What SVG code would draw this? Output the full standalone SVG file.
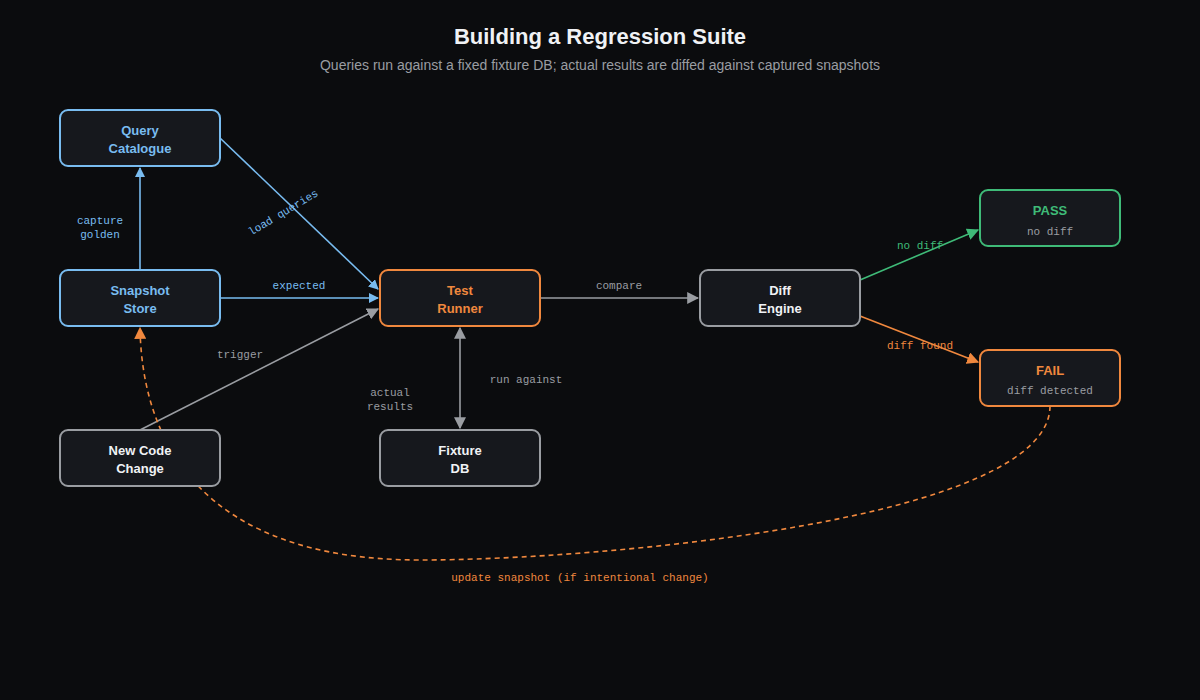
<svg xmlns="http://www.w3.org/2000/svg" width="1200" height="700" viewBox="0 0 1200 700">
<style>
.n{fill:#16181d;stroke-width:2}
.t{font-family:"Liberation Sans",Arial,sans-serif;font-weight:bold;font-size:13px;text-anchor:middle}
.m{font-family:"Liberation Mono","DejaVu Sans Mono",monospace;font-size:11px;text-anchor:middle}
.e{fill:none;stroke-width:1.6}
</style>
<defs>
<marker id="ab" viewBox="0 0 10 10" refX="9" refY="5" markerWidth="10" markerHeight="10" markerUnits="userSpaceOnUse" orient="auto-start-reverse"><path d="M0,0L10,5L0,10z" fill="#79bcf0"/></marker>
<marker id="ag" viewBox="0 0 10 10" refX="9" refY="5" markerWidth="12" markerHeight="12" markerUnits="userSpaceOnUse" orient="auto-start-reverse"><path d="M0,0L10,5L0,10z" fill="#9a9da2"/></marker>
<marker id="agr" viewBox="0 0 10 10" refX="9" refY="5" markerWidth="12" markerHeight="12" markerUnits="userSpaceOnUse" orient="auto"><path d="M0,0L10,5L0,10z" fill="#3fbb78"/></marker>
<marker id="ao" viewBox="0 0 10 10" refX="9" refY="5" markerWidth="12" markerHeight="12" markerUnits="userSpaceOnUse" orient="auto"><path d="M0,0L10,5L0,10z" fill="#f0883e"/></marker>
</defs>
<rect width="1200" height="700" fill="#0b0c0e"/>
<text x="600" y="44" font-family="Liberation Sans,Arial,sans-serif" font-weight="bold" font-size="22" fill="#f0f2f5" text-anchor="middle">Building a Regression Suite</text>
<text x="600" y="70" font-family="Liberation Sans,Arial,sans-serif" font-size="14" fill="#9a9da2" text-anchor="middle">Queries run against a fixed fixture DB; actual results are diffed against captured snapshots</text>
<g id="connectors">
<path class="e" stroke="#79bcf0" d="M140,270V168" marker-end="url(#ab)"/>
<path class="e" stroke="#79bcf0" d="M220,138L378,289" marker-end="url(#ab)"/>
<path class="e" stroke="#79bcf0" d="M220,298H378" marker-end="url(#ab)"/>
<path class="e" stroke="#9a9da2" d="M140,430L378,309" marker-end="url(#ag)"/>
<path class="e" stroke="#9a9da2" d="M540,298H698" marker-end="url(#ag)"/>
<path class="e" stroke="#9a9da2" d="M460,328V428" marker-start="url(#ag)" marker-end="url(#ag)"/>
<path class="e" stroke="#3fbb78" d="M860,280L978,230" marker-end="url(#agr)"/>
<path class="e" stroke="#f0883e" d="M860,316L978,362" marker-end="url(#ao)"/>
<path class="e" stroke="#f0883e" stroke-dasharray="5,4" d="M1050,406C1050,520 600,560 420,560C200,560 142,440 140,328" marker-end="url(#ao)"/>
<text class="m" x="100" y="224" fill="#79bcf0">capture</text>
<text class="m" x="100" y="238" fill="#79bcf0">golden</text>
<text class="m" x="283" y="216" fill="#79bcf0" transform="rotate(-31 283 212)">load queries</text>
<text class="m" x="299" y="289" fill="#79bcf0">expected</text>
<text class="m" x="240" y="358" fill="#9a9da2">trigger</text>
<text class="m" x="619" y="289" fill="#9a9da2">compare</text>
<text class="m" x="390" y="396" fill="#9a9da2" text-anchor="start">actual</text>
<text class="m" x="390" y="410" fill="#9a9da2" text-anchor="start">results</text>
<text class="m" x="526" y="383" fill="#9a9da2">run against</text>
<text class="m" x="920" y="249" fill="#3fbb78">no diff</text>
<text class="m" x="920" y="349" fill="#f0883e">diff found</text>
<text class="m" x="580" y="581" fill="#f0883e">update snapshot (if intentional change)</text>
</g>
<g id="query-catalogue"><rect class="n" x="60" y="110" width="160" height="56" rx="8" stroke="#79bcf0"/><text class="t" x="140" y="135" fill="#79bcf0">Query</text><text class="t" x="140" y="153" fill="#79bcf0">Catalogue</text></g>
<g id="snapshot-store"><rect class="n" x="60" y="270" width="160" height="56" rx="8" stroke="#79bcf0"/><text class="t" x="140" y="295" fill="#79bcf0">Snapshot</text><text class="t" x="140" y="313" fill="#79bcf0">Store</text></g>
<g id="new-code-change"><rect class="n" x="60" y="430" width="160" height="56" rx="8" stroke="#9a9da2"/><text class="t" x="140" y="455" fill="#f0f2f5">New Code</text><text class="t" x="140" y="473" fill="#f0f2f5">Change</text></g>
<g id="test-runner"><rect class="n" x="380" y="270" width="160" height="56" rx="8" stroke="#f0883e"/><text class="t" x="460" y="295" fill="#f0883e">Test</text><text class="t" x="460" y="313" fill="#f0883e">Runner</text></g>
<g id="fixture-db"><rect class="n" x="380" y="430" width="160" height="56" rx="8" stroke="#9a9da2"/><text class="t" x="460" y="455" fill="#f0f2f5">Fixture</text><text class="t" x="460" y="473" fill="#f0f2f5">DB</text></g>
<g id="diff-engine"><rect class="n" x="700" y="270" width="160" height="56" rx="8" stroke="#9a9da2"/><text class="t" x="780" y="295" fill="#f0f2f5">Diff</text><text class="t" x="780" y="313" fill="#f0f2f5">Engine</text></g>
<g id="pass"><rect class="n" x="980" y="190" width="140" height="56" rx="8" stroke="#3fbb78"/><text class="t" x="1050" y="215" fill="#3fbb78" font-size="15">PASS</text><text class="m" x="1050" y="235" fill="#9a9da2">no diff</text></g>
<g id="fail"><rect class="n" x="980" y="350" width="140" height="56" rx="8" stroke="#f0883e"/><text class="t" x="1050" y="375" fill="#f0883e" font-size="15">FAIL</text><text class="m" x="1050" y="394" fill="#9a9da2">diff detected</text></g>
</svg>
